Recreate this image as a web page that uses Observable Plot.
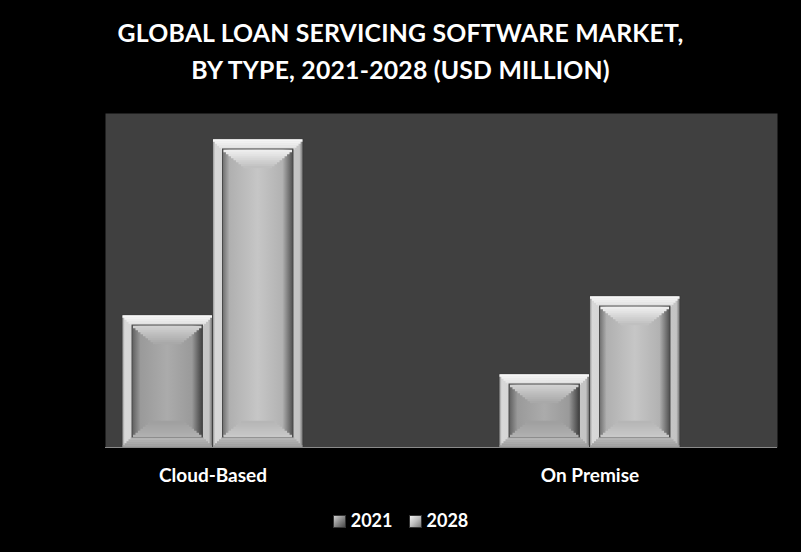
<!DOCTYPE html>
<html><head><meta charset="utf-8">
<script src="https://cdn.jsdelivr.net/npm/d3@7"></script>
<script src="https://cdn.jsdelivr.net/npm/@observablehq/plot@0.6"></script>
<style>
html,body{margin:0;padding:0;background:#000;}
#wrap{position:relative;width:801px;height:552px;background:#000;font-family:Lato,"Open Sans",sans-serif;color:#fff;overflow:hidden;}
#title{position:absolute;left:0;top:14px;width:801px;text-align:center;font-weight:700;font-size:24.8px;line-height:37px;letter-spacing:0.2px;}
#chart{position:absolute;left:0;top:100px;}
#legend{position:absolute;left:0;top:509px;width:801px;text-align:center;font-weight:700;font-size:18px;line-height:22px;}
#legend span.item{display:inline-block;margin:0 8px;}
#legend .sw{display:inline-block;width:11px;height:11px;margin-right:5px;vertical-align:-1px;border:1px solid #333;}
</style></head>
<body><div id="wrap">
<svg width="0" height="0" style="position:absolute">
<defs>
<linearGradient id="frameG" x1="0" x2="1" y1="0" y2="0">
<stop offset="0" stop-color="#8a8a8a"/><stop offset="0.03" stop-color="#d8d8d8"/><stop offset="0.5" stop-color="#cdcdcd"/><stop offset="0.96" stop-color="#c4c4c4"/><stop offset="1" stop-color="#6a6a6a"/>
</linearGradient>
<linearGradient id="face2028" x1="0" x2="1" y1="0" y2="0">
<stop offset="0" stop-color="#6e6e6e"/><stop offset="0.1" stop-color="#b0b0b0"/><stop offset="0.5" stop-color="#c6c6c6"/><stop offset="0.85" stop-color="#b2b2b2"/><stop offset="1" stop-color="#4e4e4e"/>
</linearGradient>
<linearGradient id="face2021" x1="0" x2="1" y1="0" y2="0">
<stop offset="0" stop-color="#5e5e5e"/><stop offset="0.12" stop-color="#9a9a9a"/><stop offset="0.5" stop-color="#ababab"/><stop offset="0.85" stop-color="#9a9a9a"/><stop offset="1" stop-color="#3e3e3e"/>
</linearGradient>
</defs></svg>
<div id="title">GLOBAL LOAN SERVICING SOFTWARE MARKET,<br>BY TYPE, 2021-2028 (USD MILLION)</div>
<div id="chart"></div>
<div id="legend"></div>
</div>
<script>
const categories = ["Cloud-Based", "On Premise"];
const years = ["2021", "2028"];
const values2021 = [1383, 765];
const values2028 = [3228, 1582];
const yMax = 3500;

const d2021 = categories.map((c, i) => ({type: c, year: "2021", value: values2021[i]}));
const d2028 = categories.map((c, i) => ({type: c, year: "2028", value: values2028[i]}));

const half = 90.5;
// trapezoid-shaped shading bands built from stacked ticks
function band(data, yField, oL, oR, opts) {
  const {start, rows, step, inset0, slope, c0, c1, dir} = opts;
  const col = d3.interpolateRgb(c0, c1);
  const marks = [];
  for (let k = 0; k < rows; k++) {
    const off = start + k * step + step / 2;
    const ins = inset0 + k * step * slope;
    marks.push(Plot.tickY(data, {
      x: "type", y: yField, stroke: col(rows > 1 ? k / (rows - 1) : 0),
      strokeWidth: step + 0.4, dy: dir * off,
      insetLeft: oL + ins, insetRight: oR + ins
    }));
  }
  return marks;
}
function barLayers(data, side, faceId, dark) {
  const oL = side === "left" ? 0 : half, oR = side === "left" ? half : 0;
  const s = dark ? 0.88 : 1;
  const g = v => d3.rgb(v * s, v * s, v * s).formatHex();
  return [
    Plot.barY(data, {x: "type", y: "value", fill: "url(#frameG)", insetLeft: oL, insetRight: oR, stroke: "#3a3a3a", strokeWidth: 0.8}),
    ...band(data, "value", oL, oR, {start: 0, rows: 5, step: 2, inset0: 0.5, slope: 1, c0: "#f6f6f6", c1: "#e2e2e2", dir: 1}),
    ...band(data, () => 0, oL, oR, {start: 0, rows: 5, step: 2, inset0: 0.5, slope: 1, c0: "#9c9c9c", c1: "#b4b4b4", dir: -1}),
    Plot.barY(data, {x: "type", y: "value", fill: `url(#${faceId})`, insetLeft: oL + 10, insetRight: oR + 10, insetTop: 10, insetBottom: 10, stroke: "#4a4a4a", strokeWidth: 1}),
    ...band(data, "value", oL, oR, {start: 10.5, rows: 9, step: 2, inset0: 11, slope: 1.25, c0: g(238), c1: g(192), dir: 1}),
    ...band(data, () => 0, oL, oR, {start: 10.5, rows: 8, step: 2, inset0: 11, slope: 1.25, c0: g(200), c1: g(182), dir: -1})
  ];
}

const chart = Plot.plot({
  width: 801,
  height: 400,
  marginLeft: 105,
  marginRight: 24,
  marginTop: 13,
  marginBottom: 53,
  style: {background: "transparent", color: "#fff"},
  x: {domain: categories, paddingInner: 0.52, paddingOuter: 0.1512, align: 0.149, label: null},
  y: {domain: [0, yMax], axis: null},
  marks: [
    Plot.frame({fill: "#404040", stroke: null}),
    ...barLayers(d2021, "left", "face2021", true),
    ...barLayers(d2028, "right", "face2028", false),
    Plot.ruleY([0], {stroke: "#8a8a8a", strokeWidth: 1.2}),
    Plot.axisX({tickSize: 0, tickPadding: 21, label: null, fontSize: 19, fontWeight: 700, fill: "#fff"})
  ]
});
chart.style.fontFamily = "Lato, 'Open Sans', sans-serif";
document.getElementById("chart").appendChild(chart);

const legend = document.getElementById("legend");
years.forEach(y => {
  const s = document.createElement("span");
  s.className = "item";
  s.innerHTML = `<span class="sw" style="background:linear-gradient(135deg, ${y === "2021" ? "#cfcfcf,#8a8a8a,#4a4a4a" : "#f0f0f0,#bdbdbd,#7a7a7a"})"></span>${y}`;
  legend.appendChild(s);
});
</script>
</body></html>
